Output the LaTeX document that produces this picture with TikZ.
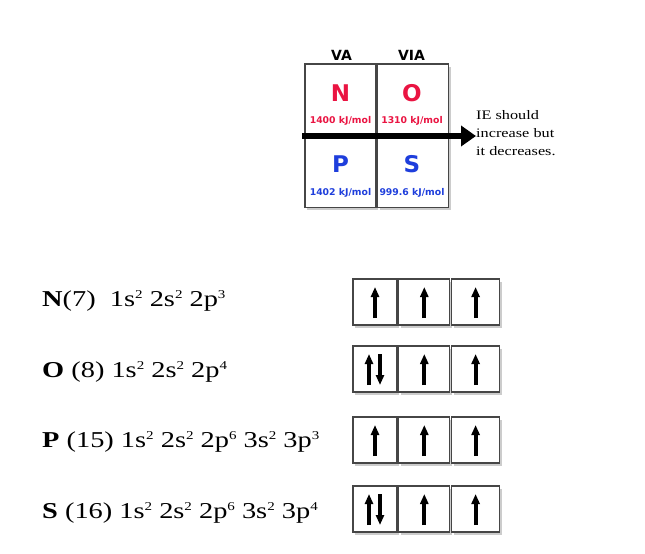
\documentclass[tikz,border=0pt]{standalone}
\usepackage{fontspec}
\setmainfont{Liberation Serif}
\setsansfont{DejaVu Sans}
\newfontfamily\cfgfont[FakeStretch=1.25]{Liberation Serif}
\newcommand{\sps}[1]{\raisebox{0.32em}{\fontsize{12}{12}\selectfont #1}}
\definecolor{elred}{RGB}{234, 20, 66}
\definecolor{elblue}{RGB}{30, 62, 220}
\definecolor{edgegray}{RGB}{70, 70, 70}
\usetikzlibrary{arrows.meta, positioning, shadows}
\tikzset{
	cell/.style={rectangle, draw=edgegray, line width=1.6pt, fill=white, minimum width=71pt, minimum height=71pt, inner sep=0pt, drop shadow={shadow xshift=2pt, shadow yshift=-2.5pt, opacity=0.4, fill=gray}},
	orb/.style={rectangle, draw=edgegray, line width=1.3pt, fill=white, minimum height=46pt, inner sep=0pt, drop shadow={shadow xshift=2pt, shadow yshift=-2.5pt, opacity=0.4, fill=gray}},
	symb/.style={font=\sffamily\bfseries\fontsize{23}{23}\selectfont},
	energy/.style={anchor=base, inner sep=0pt, font=\sffamily\bfseries\fontsize{9.3}{10}\selectfont},
	grp/.style={font=\sffamily\bfseries\fontsize{14}{14}\selectfont},
	cfg/.style={anchor=base west, inner sep=0pt, font=\cfgfont\fontsize{22.7}{24}\selectfont},
	note/.style={anchor=north west, align=left, inner sep=0pt, font=\cfgfont\fontsize{13}{18}\selectfont},
	trend/.style={-{Triangle[length=15pt, width=20pt]}, line width=6.5pt},
	spin/.style={-{Triangle[length=10pt, width=8pt]}, line width=4pt},
}

\begin{document}
\begin{tikzpicture}[x=1pt, y=-1pt]
	\path[use as bounding box, fill=white] (0,0) rectangle (645,554);
	% group table
	\node[cell] (cellN) at (340.5,99.5) {};
	\node[cell, right=0pt of cellN] (cellO) {};
	\node[cell, below=0pt of cellN] (cellP) {};
	\node[cell, right=0pt of cellP] (cellS) {};
	\node[grp] (va) at (341.5,55) {VA};
	\node[grp] (via) at (411.5,55) {VIA};
	\node[symb, text=elred] (N) at (340.5,93.5) {N};
	\node[symb, text=elred] (O) at (412,93.5) {O};
	\node[symb, text=elblue] (P) at (340.5,164.5) {P};
	\node[symb, text=elblue] (S) at (412,164.5) {S};
	\node[energy, text=elred] (ieN) at (340.5,123) {1400 kJ/mol};
	\node[energy, text=elred] (ieO) at (412,123) {1310 kJ/mol};
	\node[energy, text=elblue] (ieP) at (340.5,195) {1402 kJ/mol};
	\node[energy, text=elblue] (ieS) at (412,195) {999.6 kJ/mol};
	\node[note] (note) at (476,110) {IE should\\increase but\\it decreases.};
	\coordinate (trendL) at (302,136);
	\draw[trend] (trendL) -- (trendL -| note.west);
	% configurations
	\node[cfg] (cfgN) at (42,306) {\textbf{N}(7)\ \ 1s\sps{2} 2s\sps{2} 2p\sps{3}};
	\node[cfg] (cfgO) at (42,377) {\textbf{O} (8) 1s\sps{2} 2s\sps{2} 2p\sps{4}};
	\node[cfg] (cfgP) at (42,447) {\textbf{P} (15) 1s\sps{2} 2s\sps{2} 2p\sps{6} 3s\sps{2} 3p\sps{3}};
	\node[cfg] (cfgS) at (42,518) {\textbf{S} (16) 1s\sps{2} 2s\sps{2} 2p\sps{6} 3s\sps{2} 3p\sps{4}};
	% 2p / 3p orbitals
	\foreach \r/\y in {1/302, 2/369, 3/440, 4/509}{
		\node[orb, minimum width=44pt] (o\r-a) at (375,\y) {};
		\node[orb, minimum width=51pt, right=0.5pt of o\r-a] (o\r-b) {};
		\node[orb, minimum width=48pt, right=0.5pt of o\r-b] (o\r-c) {};
	}
	\foreach \b in {1-a,1-b,1-c,2-b,2-c,3-a,3-b,3-c,4-b,4-c}{\draw[spin] ([yshift=-16pt]o\b.center) -- ([yshift=15pt]o\b.center);}
	\foreach \r in {2,4}{
		\draw[spin] ([xshift=-6pt, yshift=-16pt]o\r-a.center) -- ([xshift=-6pt, yshift=15pt]o\r-a.center);
		\draw[spin] ([xshift=5pt, yshift=15pt]o\r-a.center) -- ([xshift=5pt, yshift=-16pt]o\r-a.center);
	}
\end{tikzpicture}
\end{document}
